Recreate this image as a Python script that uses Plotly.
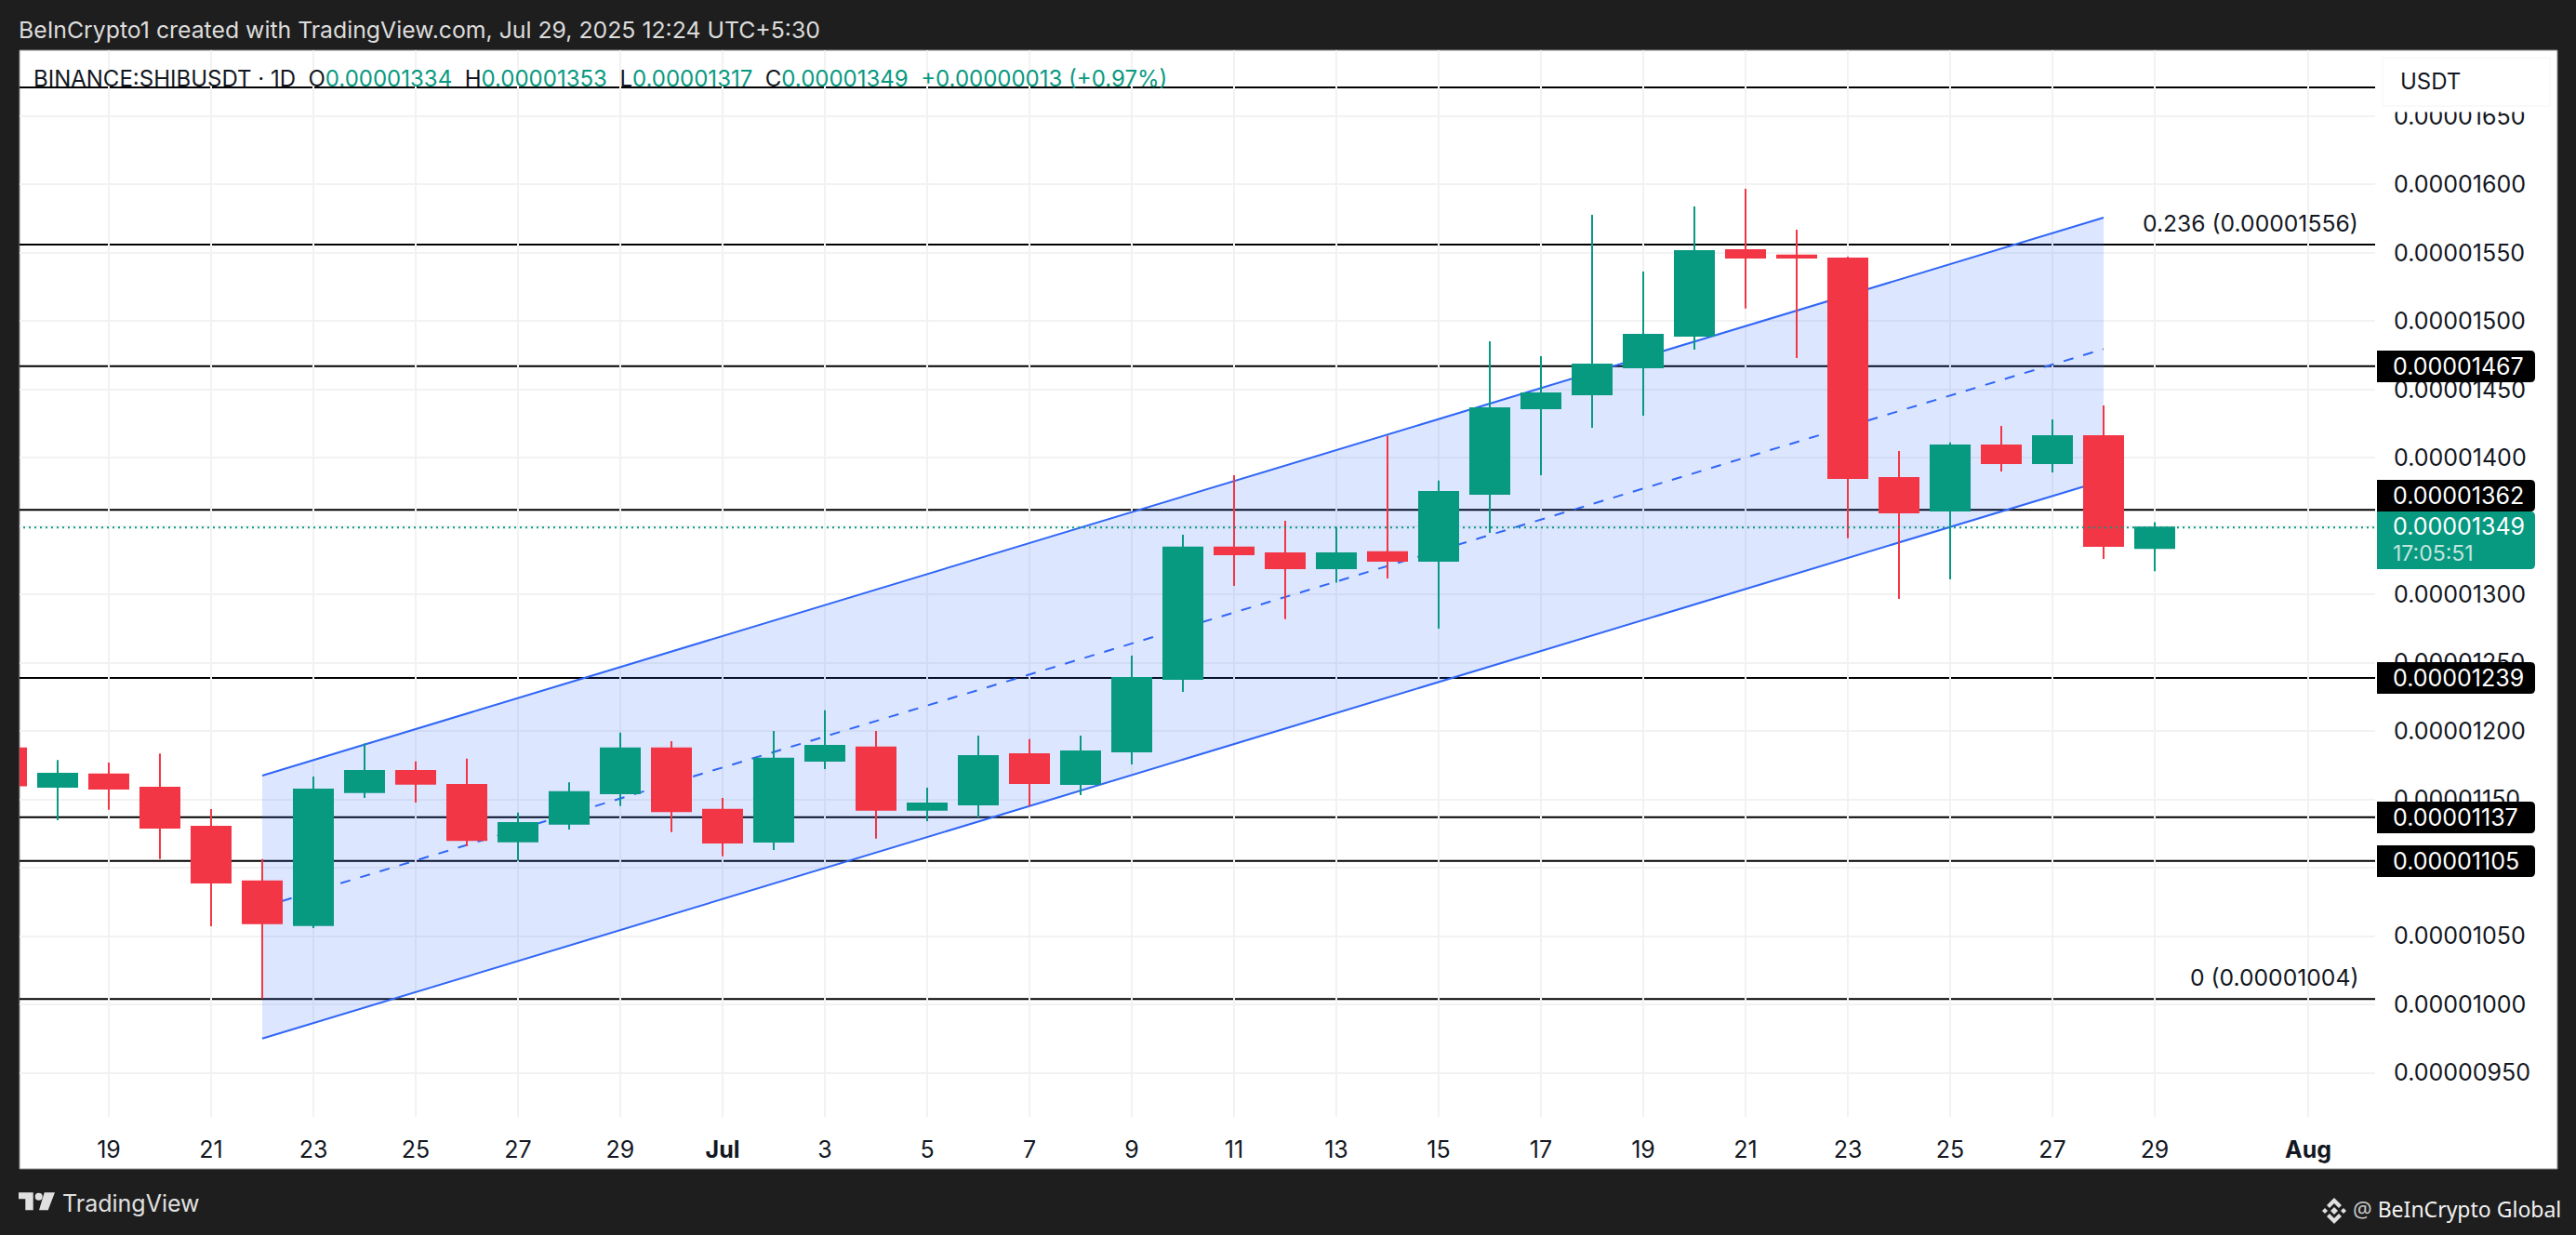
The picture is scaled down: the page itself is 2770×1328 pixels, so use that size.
import numpy as np
import pandas as pd
import plotly.graph_objects as go

# chart data, prices in units of 1e-8 USDT
dates = pd.date_range('2025-06-17', '2025-07-29')
opens = [1187.4, 1159.3, 1168.3, 1158.7, 1130.0, 1090.0, 1058.0, 1155.3, 1170.8, 1160.7, 1119.3, 1132.3, 1154.5, 1187.4,
         1142.4, 1119.2, 1178.4, 1188.0, 1142.4, 1146.4, 1183.2, 1161.4, 1185.2, 1238.3, 1334.3, 1330.2, 1319.3, 1330.9,
         1324.7, 1373.7, 1436.3, 1446.5, 1466.3, 1489.4, 1552.0, 1548.0, 1545.9, 1385.3, 1361.5, 1409.1, 1396.2, 1415.9, 1334.0]
highs = [1195.0, 1178.9, 1177.0, 1183.7, 1143.0, 1106.4, 1166.8, 1191.0, 1177.8, 1179.8, 1140.4, 1162.6, 1198.9, 1192.7,
         1151.1, 1200.2, 1215.2, 1200.2, 1158.7, 1196.8, 1194.1, 1196.8, 1255.3, 1343.8, 1387.3, 1354.0, 1349.5, 1416.2,
         1383.3, 1485.3, 1474.4, 1577.9, 1536.4, 1584.0, 1596.9, 1567.0, 1547.3, 1405.0, 1411.2, 1423.4, 1428.2, 1438.4, 1353.0]
lows = [1155.0, 1134.8, 1142.4, 1106.4, 1057.2, 1004.3, 1055.8, 1151.1, 1147.7, 1115.7, 1105.0, 1128.0, 1145.2, 1126.1,
        1108.4, 1113.0, 1172.3, 1121.3, 1134.2, 1136.9, 1145.1, 1153.2, 1175.7, 1228.8, 1306.3, 1281.9, 1308.6, 1311.8,
        1275.0, 1345.1, 1387.3, 1422.0, 1430.9, 1479.2, 1509.2, 1473.1, 1341.1, 1296.8, 1311.1, 1390.0, 1389.4, 1326.1, 1317.0]
closes = [1160.4, 1168.8, 1157.9, 1129.4, 1089.2, 1059.4, 1157.3, 1170.8, 1161.5, 1120.4, 1132.8, 1155.3, 1187.4, 1141.5,
          1118.5, 1179.8, 1189.3, 1142.4, 1147.1, 1181.8, 1162.1, 1185.2, 1239.0, 1334.3, 1329.5, 1319.3, 1330.2, 1324.7,
          1375.1, 1436.3, 1447.2, 1468.3, 1490.1, 1551.3, 1546.6, 1546.6, 1385.3, 1360.1, 1409.1, 1396.2, 1415.9, 1335.6, 1349.0]

levels = [1671, 1556, 1467, 1362, 1239, 1137, 1105, 1004]
last_price = 1349
channel_dates = ['2025-06-22', '2025-07-28']
channel_upper = [1167.5, 1575.8]
channel_mid = [1071.3, 1479.6]
channel_lower = [975.0, 1383.4]

price_ticks = [950, 1000, 1050, 1100, 1150, 1200, 1250, 1300, 1350, 1400, 1450, 1500, 1550, 1600, 1650]
date_ticks = ['2025-06-19', '2025-06-21', '2025-06-23', '2025-06-25', '2025-06-27', '2025-06-29', '2025-07-01',
              '2025-07-03', '2025-07-05', '2025-07-07', '2025-07-09', '2025-07-11', '2025-07-13', '2025-07-15',
              '2025-07-17', '2025-07-19', '2025-07-21', '2025-07-23', '2025-07-25', '2025-07-27', '2025-07-29', '2025-08-01']
date_labels = ['19', '21', '23', '25', '27', '29', '<b>Jul</b>', '3', '5', '7', '9', '11', '13', '15', '17', '19', '21',
               '23', '25', '27', '29', '<b>Aug</b>']
tag_labels = ['0.00001467', '0.00001362', '0.00001239', '0.00001137', '0.00001105']

SCALE = 1e-8
WIDTH, HEIGHT = 2770, 1328
LEFT, RIGHT, TOP, BOTTOM = 21, 2554, 54, 1201
GREEN = '#089981'
RED = '#F23645'
BLUE = '#2F66F6'
FONT = 'Inter'


def px(x):
    return (x - LEFT) / (RIGHT - LEFT)


def py(y):
    return (BOTTOM - y) / (BOTTOM - TOP)


def path(points):
    return 'M ' + ' L '.join(f'{px(x):.6f},{py(y):.6f}' for x, y in points) + ' Z'


def tag(y0, y1, color):
    # price label, right corners rounded
    x0, x1, r = 2556, 2726, 5
    d = (f'M {px(x0):.6f},{py(y0):.6f} L {px(x1 - r):.6f},{py(y0):.6f} '
         f'Q {px(x1):.6f},{py(y0):.6f} {px(x1):.6f},{py(y0 + r):.6f} '
         f'L {px(x1):.6f},{py(y1 - r):.6f} Q {px(x1):.6f},{py(y1):.6f} {px(x1 - r):.6f},{py(y1):.6f} '
         f'L {px(x0):.6f},{py(y1):.6f} Z')
    return dict(type='path', path=d, xref='paper', yref='paper', layer='above', fillcolor=color, line_width=0)


def poly(points, color):
    return dict(type='path', path=path(points), xref='paper', yref='paper', layer='above',
                fillcolor=color, line_width=0)


def label(x, y, text, size=25, color='#131722', anchor='left', family=FONT):
    return dict(x=px(x), y=py(y), xref='paper', yref='paper', text=text, showarrow=False, xanchor=anchor,
                yanchor='middle', align=anchor, font=dict(family=family, size=size, color=color), borderpad=0,
                borderwidth=0)


def chart_path(xs, top, bottom):
    a = [f'{d} {v * SCALE:.10f}' for d, v in zip(xs, top)]
    b = [f'{d} {v * SCALE:.10f}' for d, v in zip(reversed(xs), reversed(bottom))]
    return 'M ' + ' L '.join(a + b) + ' Z'


shapes = []
# white chart frame
shapes.append(dict(type='rect', xref='paper', yref='paper', layer='below', x0=px(21), x1=px(2750), y0=py(1257), y1=py(54),
                   fillcolor='white', line=dict(color='#8a8a8a', width=1)))
# channel fill
shapes.append(dict(type='path', path=chart_path(channel_dates, channel_upper, channel_lower), layer='between',
                   xref='x', yref='y', fillcolor='rgba(41,98,255,0.16)', line_width=0))
for lev in levels:
    shapes.append(dict(type='line', xref='paper', yref='y', layer='between', x0=0, x1=1, y0=lev * SCALE, y1=lev * SCALE,
                       line=dict(color='#000000', width=2)))
for vals, dash in [(channel_upper, 'solid'), (channel_lower, 'solid'), (channel_mid, '11px,11px')]:
    shapes.append(dict(type='line', xref='x', yref='y', layer='between', x0=channel_dates[0], x1=channel_dates[1],
                       y0=vals[0] * SCALE, y1=vals[1] * SCALE, line=dict(color=BLUE, width=2, dash=dash)))

# price tags
shapes.append(tag(377, 411, '#000000'))
shapes.append(tag(516, 550, '#000000'))
shapes.append(tag(550, 612, GREEN))
shapes.append(tag(712, 746, '#000000'))
shapes.append(tag(862, 896, '#000000'))
shapes.append(tag(909, 943, '#000000'))
# currency box sits over the top of the price scale
shapes.append(dict(type='rect', xref='paper', yref='paper', layer='above', x0=px(2556), x1=px(2749), y0=py(120.5), y1=py(55),
                   fillcolor='white', line_width=0))
shapes.append(dict(type='rect', xref='paper', yref='paper', layer='above', x0=px(2562), x1=px(2742), y0=py(114), y1=py(62),
                   fillcolor='white', line=dict(color='#f4f4f4', width=1)))

# footer logos
LOGO = '#e0e0e0'
shapes.append(poly([(20, 1282.3), (35.7, 1282.3), (35.7, 1301.3), (27.3, 1301.3), (27.3, 1289.3), (20, 1289.3)], LOGO))
shapes.append(poly([(47.7, 1282.3), (59, 1282.3), (51.7, 1301.3), (42, 1301.3)], LOGO))
shapes.append(dict(type='circle', xref='paper', yref='paper', layer='above', x0=px(37.7), x1=px(45.7), y0=py(1290.7),
                   y1=py(1282.7), fillcolor=LOGO, line_width=0))
cx, cy = 2510, 1302
for dx, dy, r in [(0, 0, 4), (-10, 0, 3), (10, 0, 3)]:
    shapes.append(poly([(cx + dx - r, cy + dy), (cx + dx, cy + dy - r), (cx + dx + r, cy + dy), (cx + dx, cy + dy + r)], LOGO))
shapes.append(poly([(cx - 8, cy - 6), (cx, cy - 14), (cx + 8, cy - 6), (cx + 5, cy - 3), (cx, cy - 8), (cx - 5, cy - 3)], LOGO))
shapes.append(poly([(cx - 8, cy + 6), (cx, cy + 14), (cx + 8, cy + 6), (cx + 5, cy + 3), (cx, cy + 8), (cx - 5, cy + 3)], LOGO))

NB = '\u00a0'


def g(s):
    return f'<span style="color:{GREEN}">{s}</span>'


legend_text = (f'BINANCE:SHIBUSDT · 1D{NB}{NB}O' + g('0.00001334') + f'{NB}{NB}H' + g('0.00001353') + f'{NB}{NB}L' +
               g('0.00001317') + f'{NB}{NB}C' + g('0.00001349') + g(f'{NB}{NB}+0.00000013 (+0.97%)'))

annotations = [
    label(20, 32, 'BeInCrypto1 created with TradingView.com, Jul 29, 2025 12:24 UTC+5:30', size=24.8, color='#dcdcdc'),
    label(36, 85, legend_text, size=24, color='#131722'),
    label(2536, 240, '0.236 (0.00001556)', size=24.7, anchor='right'),
    label(2536, 1051, '0 (0.00001004)', size=24.7, anchor='right'),
    label(2581, 87, 'USDT', size=24),
    label(2573, 394, tag_labels[0], color='white'),
    label(2573, 533, tag_labels[1], color='white'),
    label(2573, 729, tag_labels[2], color='white'),
    label(2573, 879, tag_labels[3], color='white'),
    label(2573, 926, tag_labels[4], color='white'),
    label(2573, 566, '0.00001349', color='white'),
    label(2573, 595, '17:05:51', size=23, color='#c2e5de'),
    label(67, 1294, 'TradingView', size=25, color=LOGO),
    label(2530, 1300, '<span style="color:#c8c8c8">@</span> BeInCrypto Global', size=23, color='#f2f2f2', family='Noto Sans'),
]

fig = go.Figure()
fig.add_trace(go.Candlestick(
    x=dates, open=np.array(opens) * SCALE, high=np.array(highs) * SCALE, low=np.array(lows) * SCALE,
    close=np.array(closes) * SCALE, whiskerwidth=0,
    increasing=dict(line=dict(color=GREEN, width=2), fillcolor=GREEN),
    decreasing=dict(line=dict(color=RED, width=2), fillcolor=RED),
))
fig.add_trace(go.Scatter(
    x=['2025-06-17', '2025-08-03'], y=[last_price * SCALE, last_price * SCALE], mode='lines',
    line=dict(color=GREEN, width=2, dash='2px,4px'), hoverinfo='skip',
))

fig.update_layout(
    width=WIDTH, height=HEIGHT, showlegend=False, boxgap=0.236, boxgroupgap=0,
    paper_bgcolor='#1e1e1e', plot_bgcolor='rgba(0,0,0,0)',
    margin=dict(l=LEFT, r=WIDTH - RIGHT, t=TOP, b=HEIGHT - BOTTOM, pad=0, autoexpand=False),
    font=dict(family=FONT, size=25, color='#131722'),
    shapes=shapes, annotations=annotations,
    xaxis=dict(
        range=['2025-06-17 06:07', '2025-08-02 07:25'], rangeslider=dict(visible=False), tickmode='array',
        tickvals=date_ticks, ticktext=date_labels, showgrid=True, gridcolor='#f2f2f2', gridwidth=2, zeroline=False,
        showline=False, ticks='', ticklabelstandoff=18, tickfont=dict(family=FONT, size=25, color='#131722'),
    ),
    yaxis=dict(
        side='right', range=[917.7 * SCALE, 1698.3 * SCALE], tickmode='array',
        tickvals=[v * SCALE for v in price_ticks], tickformat='.8f',
        showgrid=True, gridcolor='#f2f2f2', gridwidth=2, zeroline=False, showline=False, ticks='',
        ticklabelstandoff=19, tickfont=dict(family=FONT, size=25, color='#131722'),
    ),
)

fig.write_html('out.html', config={'displayModeBar': False}, post_script="document.body.style.margin='0';")
